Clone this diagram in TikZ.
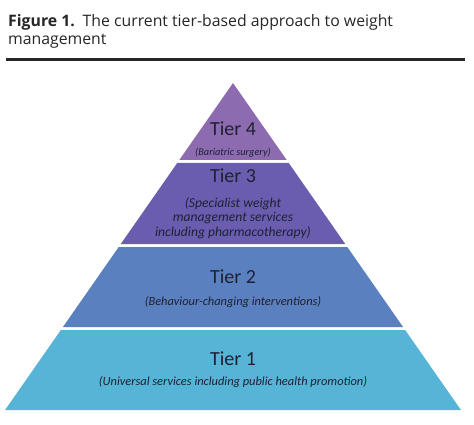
\documentclass[tikz,border=0pt]{standalone}
\usepackage{fontspec}
\setmainfont{Carlito}
\newfontfamily\titlefont{Open Sans}
\usetikzlibrary{positioning}
\definecolor{tierfour}{HTML}{8C6BB1}
\definecolor{tierthree}{HTML}{6A5DB0}
\definecolor{tiertwo}{HTML}{5B80C0}
\definecolor{tierone}{HTML}{56B4D6}
\definecolor{tiertext}{HTML}{1E2233}
\tikzset{tier name/.style={inner sep=0pt,text=tiertext,font=\fontsize{20}{20}\selectfont},
         tier note/.style={inner sep=0pt,text=tiertext,align=center,font=\itshape\fontsize{12.4}{14}\selectfont},
         title line/.style={inner sep=0pt,anchor=base west,text=black!85,font=\titlefont\fontsize{15.8}{18}\selectfont},
}
% one band of the pyramid, from y=#2 down to y=#3
\newcommand{\band}[3]{%
  \pgfmathsetmacro{\ha}{0.697*(#2-83)}%
  \pgfmathsetmacro{\hb}{0.697*(#3-83)}%
  \fill[#1] (233-\ha,#2) -- (233+\ha,#2) -- (233+\hb,#3) -- (233-\hb,#3) -- cycle;}

\begin{document}
\begin{tikzpicture}[x=1pt,y=-1pt]
\useasboundingbox (0,0) rectangle (474,425);
% \draw[help lines,step=50] (0,0) grid (474,425);

% title
\node[title line] (t1) at (8,27) {\textbf{Figure 1.}\enspace The current tier-based approach to weight};
\node[title line] (t2) at (8,45) {management};
\coordinate (r1) at (6,59.5);
\coordinate (r2) at (465,59.5);
\draw[line width=2.5pt,black!85] (r1) -- (r2);

% pyramid
\fill[tierfour] (233,83) -- (286.7,160) -- (179.3,160) -- cycle;
\band{tierthree}{163}{244}
\band{tiertwo}{247}{327}
\band{tierone}{330}{410}

\node[tier name] (n4) at (233,129) {Tier 4};
\node[tier note,font=\itshape\fontsize{10.3}{11}\selectfont] (s4) at (233,152.5) {(Bariatric surgery)};

\node[tier name] (n3) at (233,176) {Tier 3};
\node[tier note,font=\itshape\fontsize{13.6}{14.5}\selectfont] (s3) at (233,218) {(Specialist weight\\ management services\\ including pharmacotherapy)};

\node[tier name] (n2) at (233,277) {Tier 2};
\node[tier note] (s2) at (233,302) {(Behaviour-changing interventions)};

\node[tier name] (n1) at (233,359) {Tier 1};
\node[tier note] (s1) at (233,382) {(Universal services including public health promotion)};
\end{tikzpicture}
\end{document}
